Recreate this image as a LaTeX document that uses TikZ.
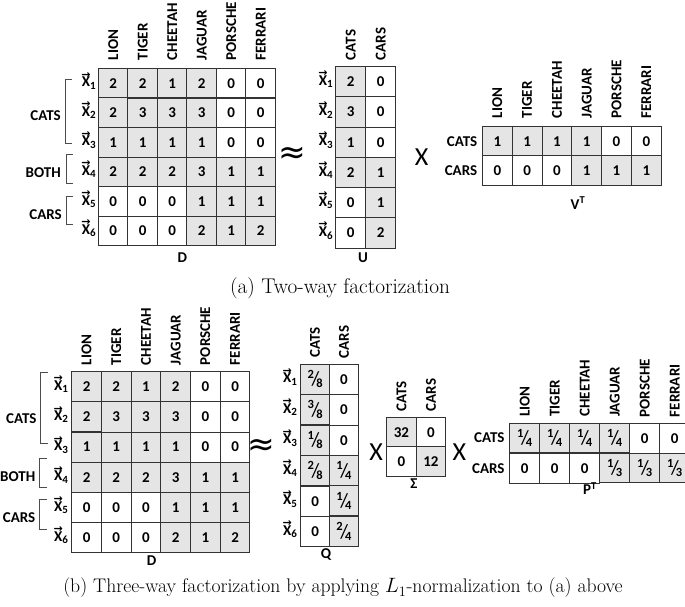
\documentclass[tikz,border=0pt]{standalone}
\usepackage{fontspec}
\setsansfont{Carlito}
\newfontfamily\dv{DejaVu Sans}
\usetikzlibrary{matrix}
\newcommand\vx[1]{\ooalign{X\cr\hidewidth\raisebox{8.6pt}{\dv\bfseries\fontsize{11}{11}\selectfont →}\hidewidth\cr}\textsubscript{\fontsize{11}{11}\selectfont #1}}
\newcommand\fr[2]{\raisebox{6pt}{\fontsize{12.5}{12}\selectfont#1}\kern-0.16em\raisebox{-1.5pt}{\fontsize{20}{20}\selectfont\mdseries/}\kern-0.2em\raisebox{-3.5pt}{\fontsize{12.5}{12}\selectfont#2}}
\tikzset{
  sf/.style={font=\sffamily\bfseries\fontsize{15}{15}\selectfont},
  cell/.style={draw=black!80, line width=1pt, inner sep=0pt, sf},
  mat/.style={matrix of nodes, inner sep=0pt, anchor=north west, column sep=-1pt, row sep=-1pt},
  g/.style={fill=gray!20},
  col/.style={rotate=90, anchor=west, inner sep=0pt, sf},
  rowlab/.style={anchor=east, inner sep=0pt, sf},
  lab/.style={inner sep=0pt, sf},
  brk/.style={draw=black!70, line width=0.7pt},
  bigx/.style={font=\sffamily\fontsize{26}{26}\selectfont, inner sep=0pt},
  apx/.style={font=\dv\fontsize{33}{33}\selectfont, inner sep=0pt},
  captext/.style={font=\rmfamily\fontsize{19.7}{20}\selectfont, inner sep=0pt}
}
\begin{document}
\begin{tikzpicture}[x=1pt,y=-1pt]
\useasboundingbox (0,0) rectangle (685,606);
% ---------- (a) ----------
\matrix[mat, nodes={cell, minimum width=29.5pt, minimum height=29.5pt}] (D) at (97.7,67.7) {
|[g]|2 & |[g]|2 & |[g]|1 & |[g]|2 & 0 & 0 \\
|[g]|2 & |[g]|3 & |[g]|3 & |[g]|3 & 0 & 0 \\
|[g]|1 & |[g]|1 & |[g]|1 & |[g]|1 & 0 & 0 \\
|[g]|2 & |[g]|2 & |[g]|2 & |[g]|3 & |[g]|1 & |[g]|1 \\
0 & 0 & 0 & |[g]|1 & |[g]|1 & |[g]|1 \\
0 & 0 & 0 & |[g]|2 & |[g]|1 & |[g]|2 \\
};
\foreach \n [count=\i] in {LION,TIGER,CHEETAH,JAGUAR,PORSCHE,FERRARI}
  \node[col] at ([yshift=7.5pt]D-1-\i.north) {\n};
\foreach \i in {1,...,6}
  \node[rowlab] at ([xshift=-1.5pt]D-\i-1.west) {\vx{\i}};
\draw[brk] (72,79) -- (65,79) -- (65,143) -- (72,143);
\draw[brk] (73,154) -- (66,154) -- (66,183) -- (73,183);
\draw[brk] (73,196) -- (66,196) -- (66,224) -- (73,224);
\node[rowlab] (ca) at (61,116) {CATS};
\node[rowlab] (ba) at (61,173) {BOTH};
\node[rowlab] (ra) at (62,215) {CARS};
\node[lab] (Dl) at (182.3,257.7) {D};
\node[apx] (ap1) at (292,155) {≈};
\matrix[mat, nodes={cell, minimum width=30pt, minimum height=30.2pt}] (U) at (335,66) {
|[g]|2 & 0 \\
|[g]|3 & 0 \\
|[g]|1 & 0 \\
|[g]|2 & |[g]|1 \\
0 & |[g]|1 \\
0 & |[g]|2 \\
};
\node[col] at ([yshift=6pt]U-1-1.north) {CATS};
\node[col] at ([yshift=6pt]U-1-2.north) {CARS};
\foreach \i in {1,...,6}
  \node[rowlab] at ([xshift=-1.7pt]U-\i-1.west) {\vx{\i}};
\node[lab] (Ul) at (363,257.7) {U};
\node[bigx] (x1) at (421.7,157) {X};
\matrix[mat, nodes={cell, minimum width=29.8pt, minimum height=29.5pt}] (V) at (481.7,125.7) {
|[g]|1 & |[g]|1 & |[g]|1 & |[g]|1 & 0 & 0 \\
0 & 0 & 0 & |[g]|1 & |[g]|1 & |[g]|1 \\
};
\foreach \n [count=\i] in {LION,TIGER,CHEETAH,JAGUAR,PORSCHE,FERRARI}
  \node[col] at ([yshift=7.5pt]V-1-\i.north) {\n};
\node[rowlab] at ([xshift=-4.5pt]V-1-1.west) {CATS};
\node[rowlab] at ([xshift=-4.5pt]V-2-1.west) {CARS};
\node[lab] (Vl) at (578,203) {V\textsuperscript{T}};
\node[captext, font=\rmfamily\fontsize{21.3}{22}\selectfont] (capa) at (340,288) {(a) Two-way factorization};
% ---------- (b) ----------
\matrix[mat, nodes={cell, minimum width=29.7pt, minimum height=30.1pt}] (E) at (71,371) {
|[g]|2 & |[g]|2 & |[g]|1 & |[g]|2 & 0 & 0 \\
|[g]|2 & |[g]|3 & |[g]|3 & |[g]|3 & 0 & 0 \\
|[g]|1 & |[g]|1 & |[g]|1 & |[g]|1 & 0 & 0 \\
|[g]|2 & |[g]|2 & |[g]|2 & |[g]|3 & |[g]|1 & |[g]|1 \\
0 & 0 & 0 & |[g]|1 & |[g]|1 & |[g]|1 \\
0 & 0 & 0 & |[g]|2 & |[g]|1 & |[g]|2 \\
};
\foreach \n [count=\i] in {LION,TIGER,CHEETAH,JAGUAR,PORSCHE,FERRARI}
  \node[col] at ([yshift=6pt]E-1-\i.north) {\n};
\foreach \i in {1,...,6}
  \node[rowlab] at ([xshift=-2.5pt]E-\i-1.west) {\vx{\i}};
\draw[brk] (48,372) -- (40,372) -- (40,443) -- (48,443);
\draw[brk] (47,458) -- (39,458) -- (39,487) -- (47,487);
\draw[brk] (47,499) -- (39,499) -- (39,529) -- (47,529);
\node[rowlab] (cb) at (36.7,419) {CATS};
\node[rowlab] (bb) at (35.5,477) {BOTH};
\node[rowlab] (rb) at (35.5,518) {CARS};
\node[lab] (El) at (151.7,561) {D};
\node[apx] (ap2) at (261,447) {≈};
\matrix[mat, nodes={cell, minimum width=28.8pt, minimum height=30.1pt}] (Q) at (300,363.3) {
|[g]|\fr28 & 0 \\
|[g]|\fr38 & 0 \\
|[g]|\fr18 & 0 \\
|[g]|\fr28 & |[g]|\fr14 \\
0 & |[g]|\fr14 \\
0 & |[g]|\fr24 \\
};
\node[col] at ([yshift=5.5pt]Q-1-1.north) {CATS};
\node[col] at ([yshift=5.5pt]Q-1-2.north) {CARS};
\foreach \i in {1,...,6}
  \node[rowlab] at ([xshift=-2.5pt]Q-\i-1.west) {\vx{\i}};
\node[lab] (Ql) at (326,555) {Q};
\node[bigx] (x2) at (376,451.7) {X};
\matrix[mat, nodes={cell, minimum width=29.5pt, minimum height=29.5pt}] (S) at (386,416.7) {
|[g]|32 & 0 \\
0 & |[g]|12 \\
};
\node[col] at ([yshift=5.5pt]S-1-1.north) {CATS};
\node[col] at ([yshift=5.5pt]S-1-2.north) {CARS};
\node[lab] (Sl) at (414,483.3) {Σ};
\node[bigx] (x3) at (459.3,451.7) {X};
\matrix[mat, nodes={cell, minimum width=30pt, minimum height=29.4pt}] (P) at (509,422.7) {
|[g]|\fr14 & |[g]|\fr14 & |[g]|\fr14 & |[g]|\fr14 & 0 & 0 \\
0 & 0 & 0 & |[g]|\fr13 & |[g]|\fr13 & |[g]|\fr13 \\
};
\foreach \n [count=\i] in {LION,TIGER,CHEETAH,JAGUAR,PORSCHE,FERRARI}
  \node[col] at ([yshift=6pt]P-1-\i.north) {\n};
\node[rowlab] at ([xshift=-4.5pt]P-1-1.west) {CATS};
\node[rowlab] at ([xshift=-4.5pt]P-2-1.west) {CARS};
\node[lab] (Pl) at (590,488.3) {P\textsuperscript{T}};
\node[captext] (capb) at (343,588) {(b) Three-way factorization by applying $L_1$-normalization to (a) above};
\end{tikzpicture}
\end{document}
